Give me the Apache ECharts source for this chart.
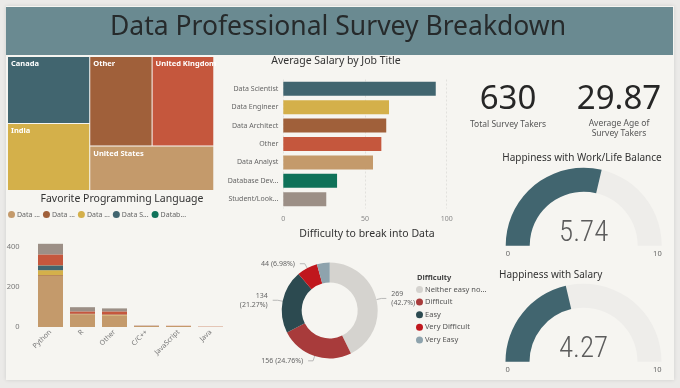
<!DOCTYPE html>
<html><head><meta charset="utf-8">
<script src="https://cdn.jsdelivr.net/npm/echarts@6/dist/echarts.min.js"></script>
<style>html,body{margin:0;padding:0;background:#ebeae8;}#c{width:680px;height:388px;}</style>
</head><body><div id="c"></div>
<script>
// ---------- data ----------
const mainTitle = 'Data Professional Survey Breakdown';
const countries = ['Canada', 'India', 'Other', 'United Kingdom', 'United States'];
const countryValues = [54.3, 54.2, 55.0, 54.4, 54.3];

const langTitle = 'Favorite Programming Language';
const languages = ['Python', 'R', 'Other', 'C/C++', 'JavaScript', 'Java'];
const jobTitles = ['Data Analyst', 'Data Architect', 'Data Engineer', 'Data Scientist', 'Database Developer', 'Other', 'Student/Looking/None'];
const langDataAnalyst = [255, 63, 57, 5, 5, 1];
const langDataArchitect = [4, 1, 1, 0, 0, 0];
const langDataEngineer = [25, 1, 3, 0, 0, 0];
const langDataScientist = [22, 1, 1, 0, 0, 0];
const langDatabaseDev = [2, 0, 0, 0, 0, 0];
const langOther = [55, 12, 16, 1, 1, 1];
const langStudent = [53, 21, 15, 1, 0, 0];
const langCounts = [langDataAnalyst, langDataArchitect, langDataEngineer, langDataScientist, langDatabaseDev, langOther, langStudent];
const langTicks = [0, 200, 400];

const salaryTitle = 'Average Salary by Job Title';
const salaryJobs = ['Data Scientist', 'Data Engineer', 'Data Architect', 'Other', 'Data Analyst', 'Database Developer', 'Student/Looking/None'];
const salaryValues = [93.3, 64.7, 63.0, 60.0, 54.9, 32.9, 26.3];
const salaryTicks = [0, 50, 100];

const kpiValues = ['630', '29.87'];
const kpiLabels = ['Total Survey Takers', 'Average Age of\nSurvey Takers'];

const gaugeTitles = ['Happiness with Work/Life Balance', 'Happiness with Salary'];
const gaugeValues = [5.74, 4.27];
const gaugeRange = [0, 10];

const diffTitle = 'Difficulty to break into Data';
const diffLegendTitle = 'Difficulty';
const diffNames = ['Neither easy nor difficult', 'Difficult', 'Easy', 'Very Difficult', 'Very Easy'];
const diffValues = [269, 156, 134, 44, 27];

// ---------- styles ----------
const FONT = 'Noto Sans';
const jobColor = {
  'Data Analyst': '#c49a6b', 'Data Architect': '#a0603a', 'Data Engineer': '#d4b04a',
  'Data Scientist': '#41656f', 'Database Developer': '#0f7259', 'Other': '#c5573d',
  'Student/Looking/None': '#9c8f86'
};
const countryColor = ['#41656f', '#d4b04a', '#a0603a', '#c5573d', '#c49a6b'];
const diffColor = ['#d5d3cf', '#a83b3b', '#2c4a50', '#c0171d', '#8ea3ad'];
const diffTotal = diffValues.reduce((a, b) => a + b, 0);

function gauge(i, cx, cy) {
  return {
    type: 'gauge', center: [cx, cy], radius: 78, startAngle: 180, endAngle: 0,
    min: gaugeRange[0], max: gaugeRange[1], splitNumber: 1,
    axisLine: { lineStyle: { width: 24, color: [[1, '#eeedea']] } },
    progress: { show: true, width: 24, itemStyle: { color: '#41656f' } },
    pointer: { show: false }, anchor: { show: false }, axisTick: { show: false },
    splitLine: { show: false, length: 0, distance: 0 },
    axisLabel: { distance: 0, fontSize: 7.5, color: '#666', fontFamily: FONT, lineHeight: 17,
      formatter: v => '\n' + v },
    title: { show: false },
    detail: { offsetCenter: [0, -12], fontSize: 29, color: '#5c5c5c', fontWeight: 300,
      fontFamily: 'Roboto Condensed, Liberation Sans Narrow, DejaVu Sans Condensed, Roboto',
      formatter: v => v.toFixed(2) },
    data: [{ value: gaugeValues[i], name: gaugeTitles[i] }]
  };
}

const chart = echarts.init(document.getElementById('c'));
chart.setOption({
  animation: false,
  textStyle: { fontFamily: FONT },
  graphic: [
    { type: 'rect', shape: { x: 6, y: 6, width: 668, height: 374 }, style: { fill: '#f6f5f1', shadowBlur: 4, shadowColor: 'rgba(0,0,0,0.12)' }, z: -10 },
    { type: 'rect', shape: { x: 6, y: 7, width: 667, height: 48 }, style: { fill: '#6a8a91' }, z: -9 }
  ],
  title: [
    { text: mainTitle, left: 338, textAlign: 'center', top: 14, padding: 0, textStyle: { fontSize: 26.5, fontWeight: 'normal', color: '#262a2b', fontFamily: FONT } },
    { text: salaryTitle, left: 336, textAlign: 'center', top: 56, padding: 0, textStyle: { fontSize: 10.5, fontWeight: 'normal', color: '#333' } },
    { text: langTitle, left: 122, textAlign: 'center', top: 194, padding: 0, textStyle: { fontSize: 10.5, fontWeight: 'normal', color: '#333' } },
    { text: diffTitle, left: 367, textAlign: 'center', top: 229, padding: 0, textStyle: { fontSize: 10.5, fontWeight: 'normal', color: '#333' } },
    { text: gaugeTitles[0], left: 582, textAlign: 'center', top: 153, padding: 0, textStyle: { fontSize: 10, fontWeight: 'normal', color: '#333' } },
    { text: gaugeTitles[1], left: 499, top: 270, padding: 0, textStyle: { fontSize: 10, fontWeight: 'normal', color: '#333' } },
    { text: kpiValues[0], subtext: kpiLabels[0], left: 508, textAlign: 'center', top: 83, padding: 0, itemGap: 4,
      textStyle: { fontSize: 33, fontWeight: 'normal', color: '#262626' }, subtextStyle: { fontSize: 8.5, color: '#555', lineHeight: 10 } },
    { text: kpiValues[1], subtext: kpiLabels[1], left: 619, textAlign: 'center', top: 83, padding: 0, itemGap: 3,
      textStyle: { fontSize: 33, fontWeight: 'normal', color: '#262626' }, subtextStyle: { fontSize: 8.5, color: '#555', lineHeight: 10, align: 'center' } },
    { text: diffLegendTitle, left: 417, top: 274, padding: 0, textStyle: { fontSize: 7.5, fontWeight: 'bold', color: '#444' } }
  ],
  legend: [
    { data: jobTitles.slice(0, 5), left: 8, top: 211, padding: 0, icon: 'circle', itemWidth: 7, itemHeight: 7, itemGap: 3,
      textStyle: { fontSize: 7, color: '#666', width: 28, overflow: 'truncate', ellipsis: '...', padding: [0, 0, 0, -3] } },
    { data: diffNames, orient: 'vertical', left: 416, top: 285.5, padding: 0, icon: 'circle', itemWidth: 7, itemHeight: 7, itemGap: 4.6,
      textStyle: { fontSize: 7.5, color: '#555', width: 64, overflow: 'truncate', ellipsis: '...', padding: [0, 0, 0, -3] } }
  ],
  grid: [
    { left: 34.5, width: 192, top: 237, height: 90 },
    { left: 283.3, width: 163.4, top: 79.5, height: 129 }
  ],
  xAxis: [
    { type: 'category', gridIndex: 0, data: languages, axisLine: { show: false }, axisTick: { show: false },
      axisLabel: { rotate: 45, fontSize: 7, color: '#777', margin: 4, interval: 0 } },
    { type: 'value', gridIndex: 1, min: salaryTicks[0], max: salaryTicks[salaryTicks.length - 1], interval: salaryTicks[1] - salaryTicks[0],
      axisLine: { show: false }, axisTick: { show: false },
      axisLabel: { fontSize: 7, color: '#888', margin: 7 },
      splitLine: { lineStyle: { type: [2, 2], color: '#e2e1dd' } } }
  ],
  yAxis: [
    { type: 'value', gridIndex: 0, min: langTicks[0], max: 450, interval: langTicks[1] - langTicks[0],
      axisLabel: { fontSize: 7.5, color: '#777', margin: 15, showMaxLabel: false }, splitLine: { show: false } },
    { type: 'category', gridIndex: 1, data: salaryJobs, inverse: true, axisLine: { show: false }, axisTick: { show: false },
      axisLabel: { fontSize: 7, color: '#666', margin: 5, width: 53, overflow: 'truncate', ellipsis: '...' } }
  ],
  series: [
    { type: 'treemap', left: 8, top: 57, width: 205.3, height: 133, roam: false, nodeClick: false, sort: false,
      breadcrumb: { show: false }, squareRatio: 0.5 * (1 + Math.sqrt(5)),
      levels: [{ itemStyle: { borderWidth: 0, gapWidth: 1, borderColor: '#f6f5f1' } }],
      label: { show: true, position: 'insideTopLeft', padding: [3, 0, 0, 3], fontSize: 7.5, color: '#fff', fontWeight: 'bold', overflow: 'none' },
      data: countries.map((c, i) => ({ name: c, value: countryValues[i], itemStyle: { color: countryColor[i], borderWidth: 0 } })) },
    ...jobTitles.map((j, k) => ({
      type: 'bar', name: j, stack: 'lang', xAxisIndex: 0, yAxisIndex: 0, barWidth: 25,
      itemStyle: { color: jobColor[j] }, data: langCounts[k]
    })),
    { type: 'bar', xAxisIndex: 1, yAxisIndex: 1, barWidth: 14,
      data: salaryValues.map((v, i) => ({ value: v, itemStyle: { color: jobColor[salaryJobs[i]] } })) },
    { type: 'pie', center: [329.7, 310.5], radius: [28, 48], startAngle: 90, clockwise: true,
      label: { fontSize: 7, color: '#666', lineHeight: 9,
        formatter: p => {
          const pct = parseFloat((p.value / diffTotal * 100).toFixed(2));
          return (p.dataIndex === 0 || p.dataIndex === 2) ? p.value + '\n(' + pct + '%)' : p.value + ' (' + pct + '%)';
        } },
      labelLine: { length: 5, length2: 5, lineStyle: { color: '#aaa', width: 0.8 } },
      data: diffNames.map((n, i) => ({ name: n, value: diffValues[i], itemStyle: { color: diffColor[i] },
        label: { show: diffValues[i] >= 40 }, labelLine: { show: diffValues[i] >= 40 } })) },
    gauge(0, 583.7, 245.7),
    gauge(1, 583.5, 361.7)
  ]
});
</script></body></html>
